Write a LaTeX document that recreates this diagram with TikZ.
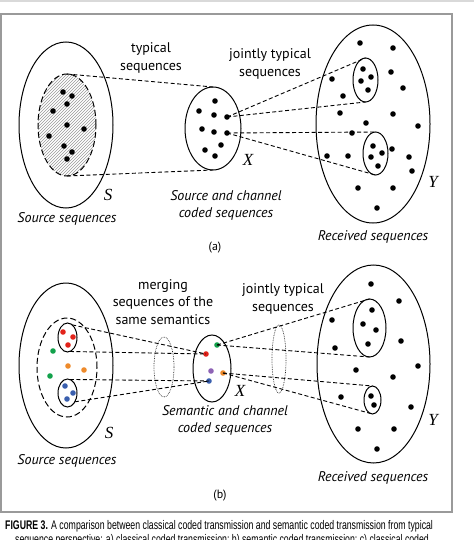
\documentclass[tikz,border=0pt]{standalone}
\usepackage{fontspec}
\usetikzlibrary{shapes.geometric,patterns}
\newfontfamily\labelfont{PT Sans}
\newfontfamily\symfont{Liberation Serif}
\newfontfamily\capfont[FakeStretch=0.70]{Liberation Sans}
\definecolor{semred}{HTML}{E2231A}
\definecolor{semgreen}{HTML}{12A14B}
\definecolor{semorange}{HTML}{EE8A2B}
\definecolor{semblue}{HTML}{3A5FAE}
\definecolor{sempurple}{HTML}{8E63B5}
\definecolor{framegray}{HTML}{9A9A9A}
\tikzset{
    seqset/.style={ellipse, draw, line width=1pt, inner sep=0pt, outer sep=0pt},
    sq/.style={circle, fill=#1, inner sep=0pt, minimum size=5.6pt},
    sq/.default=black,
    link/.style={line width=0.9pt, dash pattern=on 4pt off 2.5pt},
    cutset/.style={ellipse, draw=black!85, densely dotted, line width=0.7pt, inner sep=0pt},
    lbl/.style={font=\labelfont\fontsize{14}{17.5}\selectfont, align=center},
    ilbl/.style={font=\labelfont\itshape\fontsize{14}{17}\selectfont, align=center},
    varlbl/.style={font=\symfont\itshape\fontsize{17}{17}\selectfont}
}
\begin{document}
\begin{tikzpicture}[x=1pt, y=-1pt]
    \useasboundingbox (0,0) rectangle (474,540);
    \clip (0,0) rectangle (474,540);
    \fill[black!15] (0,0) rectangle (474,2.5);
    \draw[framegray, line width=1.3pt] (1,14) rectangle (452,512);

    % (a)
    \node[seqset, minimum width=94pt, minimum height=166pt] (Sa) at (66,125) {};
    \node[seqset, dash pattern=on 6pt off 3pt, pattern=north east lines, pattern color=black!40,
        minimum width=58pt, minimum height=102pt] (typa) at (67,125) {};
    \foreach \p [count=\i] in {(63,92),(72,96),(67,104),(53,111),(67,125),(84,129),(49,136),(64,146),(72,152),(67,159)}
        \node[sq] (sa\i) at \p {};
    \node[seqset, minimum width=56pt, minimum height=83pt] (Xa) at (213,128.5) {};
    \foreach \p [count=\i] in {(215,101),(199,111),(214,115),(202,129),(214,132),(205,150),(221,145),(215,156)}
        \node[sq] (xa\i) at \p {};
    \node[sq] (xatop) at (227,117) {};
    \node[sq] (xabot) at (227,133) {};
    \node[seqset, minimum width=114pt, minimum height=198pt] (Ya) at (373,124) {};
    \node[seqset, minimum width=25pt, minimum height=44pt] (jointa1) at (365.5,80) {};
    \node[seqset, minimum width=25pt, minimum height=43pt] (jointa2) at (375.5,153.5) {};
    \foreach \p [count=\i] in {(363,69),(371,77),(361,81),(368,90),(373,146),(382,153),(371,157),(378,166),
        (360,43),(393,48),(332,79),(391,72),(403,88),(343,96),(340,113),(393,114),(366,123),(418,126),
        (352,133),(392,149),(327,156),(348,156),(409,157),(412,171),(358,188),(393,188),(377,208)}
        \node[sq] (ya\i) at \p {};
    \draw[link] (typa.north) -- (Xa.north);
    \draw[link] (typa.south) -- (Xa.south);
    \draw[link] (xatop.center) -- (jointa1.north);
    \draw[link] (xatop.center) -- (jointa1.south);
    \draw[link] (xabot.center) -- (jointa2.north);
    \draw[link] (xabot.center) -- (jointa2.south);
    \node[lbl] (typlbl) at (151,58) {typical\\sequences};
    \node[lbl] (jointlbla) at (270,64) {jointly typical\\sequences};
    \node[varlbl] (Slbla) at (108,195) {S};
    \node[varlbl] (Xlbla) at (248,160) {X};
    \node[varlbl] (Ylbla) at (433,182) {Y};
    \node[ilbl] (srca) at (67,219) {Source sequences};
    \node[ilbl] (codeda) at (226,205) {Source and channel\\coded sequences};
    \node[ilbl] (reca) at (373,237) {Received sequences};
    \node[lbl, font=\labelfont\fontsize{12}{14}\selectfont] (pa) at (215,248) {(a)};

    % (b)
    \node[seqset, minimum width=94pt, minimum height=165pt] (Sb) at (66,365.5) {};
    \node[seqset, dash pattern=on 6pt off 3pt, minimum width=60pt, minimum height=99pt] (typb) at (67,367.5) {};
    \node[seqset, minimum width=19pt, minimum height=29pt] (redset) at (67.5,337.5) {};
    \node[seqset, minimum width=19pt, minimum height=28pt] (blueset) at (67.5,393) {};
    \foreach \p [count=\i] in {(63,332),(73,337),(68,345)}
        \node[sq=semred] (red\i) at \p {};
    \foreach \p [count=\i] in {(53,351),(50,376)}
        \node[sq=semgreen] (green\i) at \p {};
    \foreach \p [count=\i] in {(68,366),(84,370)}
        \node[sq=semorange] (orange\i) at \p {};
    \foreach \p [count=\i] in {(65,386),(73,393),(67,399)}
        \node[sq=semblue] (blue\i) at \p {};
    \node[seqset, minimum width=38pt, minimum height=67pt] (Xb) at (212,368.5) {};
    \node[sq=semgreen] (xg) at (217,345) {};
    \node[sq=semred] (xr) at (206,354) {};
    \node[sq=sempurple] (xp) at (211,371) {};
    \node[sq=semorange] (xo) at (223,373) {};
    \node[sq=semblue] (xb) at (209,381) {};
    \node[seqset, minimum width=113pt, minimum height=198pt] (Yb) at (373.5,364) {};
    \node[seqset, minimum width=33pt, minimum height=58pt] (jointb1) at (369.5,328) {};
    \node[seqset, minimum width=17pt, minimum height=28pt] (jointb2) at (372.5,400) {};
    \foreach \p [count=\i] in {(372,310),(363,324),(376,330),(368,344),(371,396),(374,405),
        (371,284),(399,301),(332,320),(401,341),(335,348),(418,366),(356,370),(393,377),
        (341,397),(411,407),(358,429),(394,429),(377,449)}
        \node[sq] (yb\i) at \p {};
    \node[cutset, minimum width=20pt, minimum height=60pt] (mergecut) at (164,367) {};
    \node[cutset, minimum width=14pt, minimum height=68pt] (jointcut) at (279,359) {};
    \draw[link] (redset.70) -- (xr.center);
    \draw[link] (redset.-80) -- (xr.center);
    \draw[link] (blueset.80) -- (xb.center);
    \draw[link] (blueset.-50) -- (xb.center);
    \draw[link] (xg.center) -- (jointb1.north);
    \draw[link] (xg.center) -- (jointb1.south);
    \draw[link] (xo.center) -- (jointb2.north);
    \draw[link] (xo.center) -- (jointb2.south);
    \node[lbl] (mergelbl) at (163,302) {merging\\sequences of the\\same semantics};
    \node[lbl] (jointlblb) at (283,299) {jointly typical\\sequences};
    \node[varlbl] (Slblb) at (109,433) {S};
    \node[varlbl] (Xlblb) at (240,391) {X};
    \node[varlbl] (Ylblb) at (433,420) {Y};
    \node[ilbl] (srcb) at (67,461) {Source sequences};
    \node[ilbl] (codedb) at (225,420) {Semantic and channel\\coded sequences};
    \node[ilbl] (recb) at (373,478) {Received sequences};
    \node[lbl, font=\labelfont\fontsize{12}{14}\selectfont] (pb) at (220,496) {(b)};

    \node[anchor=base west, inner sep=0pt, font=\capfont\fontsize{12.5}{14}\selectfont] (cap1) at (5,529)
        {\textbf{FIGURE 3.} A comparison between classical coded transmission and semantic coded transmission from typical};
    \node[anchor=base west, inner sep=0pt, font=\capfont\fontsize{12.5}{14}\selectfont] (cap2) at (15,543.5)
        {sequence perspective: a) classical coded transmission; b) semantic coded transmission; c) classical coded};
\end{tikzpicture}
\end{document}
